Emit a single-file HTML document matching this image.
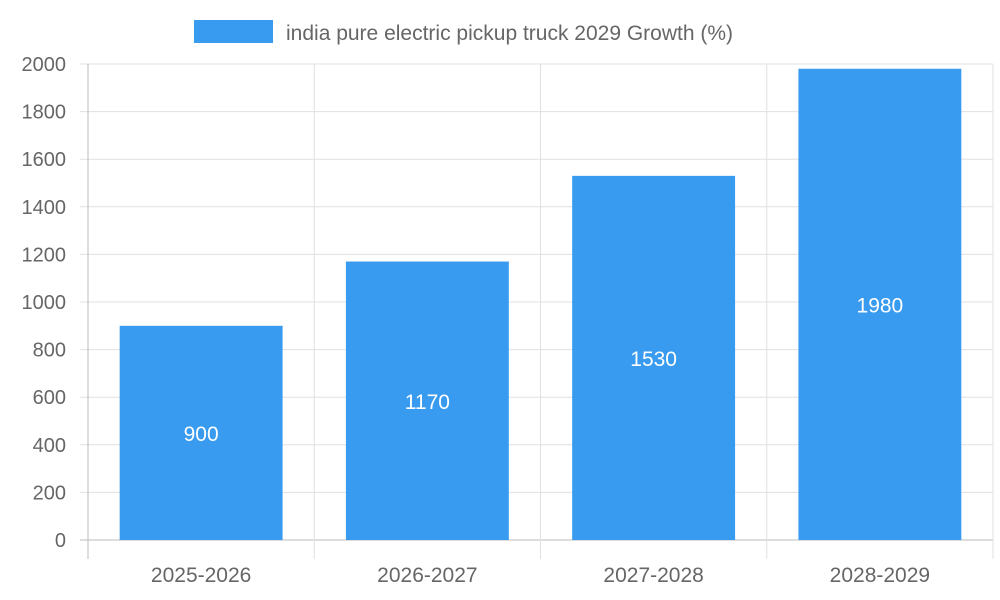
<!DOCTYPE html>
<html><head><meta charset="utf-8"><style>
html,body{margin:0;padding:0;background:#fff;}
svg{display:block;font-family:"Liberation Sans",sans-serif;}
</style></head><body>
<svg id="chart" width="1000" height="600">
<g id="legend">
<rect x="194" y="20" width="79" height="23" fill="#389bf0"/>
<text x="286" y="40" font-size="21" fill="#666">india pure electric pickup truck 2029 Growth (%)</text>
</g>
<g id="grid"></g><g id="bars"></g><g id="axes"></g>
</svg>
<script>
const categories = ["2025-2026","2026-2027","2027-2028","2028-2029"];
const values = [900,1170,1530,1980];
const yTicks = [0,200,400,600,800,1000,1200,1400,1600,1800,2000];
const NS="http://www.w3.org/2000/svg";
const L=88,R=993,T=64,B=540,yMax=2000;
const y=v=>B-(v/yMax)*(B-T);
const bw=(R-L)/categories.length;
const x=i=>L+i*bw;
function mk(p,tag,attrs){const e=document.createElementNS(NS,tag);for(const k in attrs)e.setAttribute(k,attrs[k]);p.appendChild(e);return e;}
const grid=document.getElementById('grid'),bars=document.getElementById('bars'),axes=document.getElementById('axes');
yTicks.forEach(t=>{
  const g=mk(grid,'line',{x1:80,x2:R,y1:y(t),y2:y(t),stroke:t===0?'#bbb':'#e0e0e0','stroke-width':1});
  
  
  const lb=mk(axes,'text',{x:66,y:y(t)+7,'text-anchor':'end','font-size':20,fill:'#666'});
  lb.textContent=t;
  
  
});
for(let i=0;i<=categories.length;i++){
  const g=mk(grid,'line',{x1:x(i),x2:x(i),y1:T,y2:559,stroke:i===0?'#bbb':'#e0e0e0','stroke-width':1});
  
  
}
categories.forEach((c,i)=>{
  const w=bw*0.72,bx=x(i)+(bw-w)/2,by=y(values[i]);
  const r=mk(bars,'rect',{x:bx,y:by,width:w,height:B-by,fill:'#389bf0'});
  
  
  const v=mk(bars,'text',{x:bx+w/2,y:(by+B)/2+8,'text-anchor':'middle','font-size':21,fill:'#fff'});
  v.textContent=values[i];
  
  
  const lb=mk(axes,'text',{x:x(i)+bw/2,y:582,'text-anchor':'middle','font-size':21,fill:'#666'});
  lb.textContent=c;
  
  
});
</script>
</body></html>
